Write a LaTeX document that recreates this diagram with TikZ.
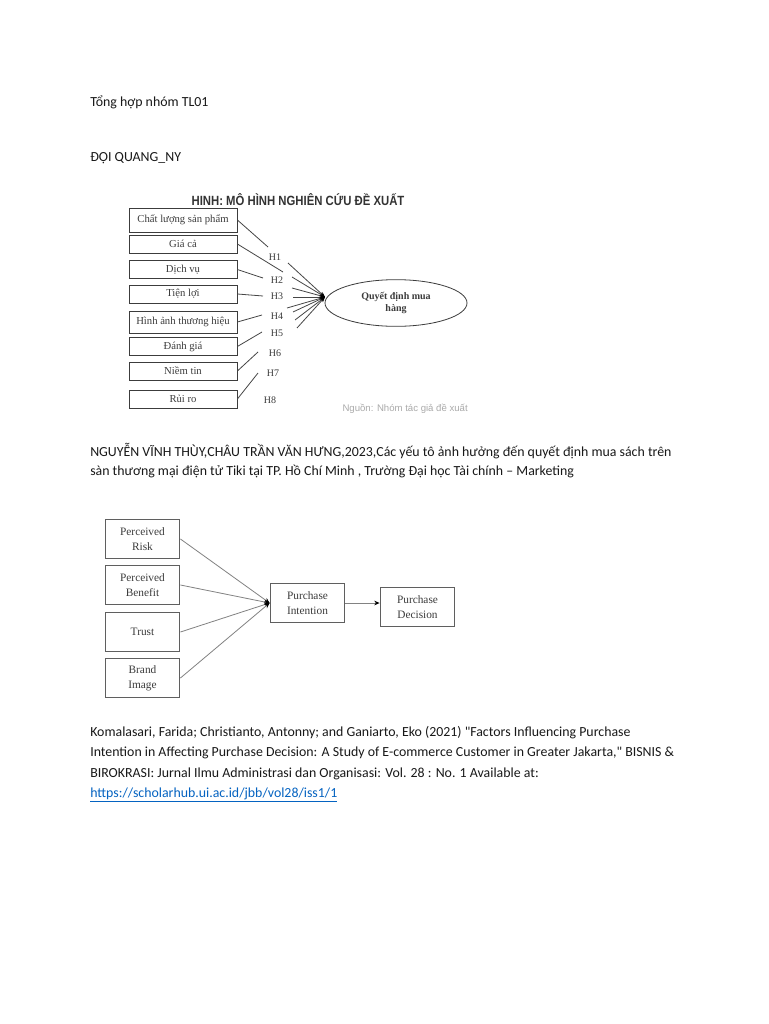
\documentclass[tikz,border=0pt]{standalone}
\usepackage{fontspec}
\setmainfont{Carlito}[Ligatures=TeXOff]
\newfontfamily\scanserif{Liberation Serif}
\newfontfamily\scantitle[FakeStretch=0.85]{Liberation Sans}
\newfontfamily\notesans{Liberation Sans}
\usepackage{xcolor}
\definecolor{txtblack}{RGB}{25,25,25}
\definecolor{scangray}{RGB}{60,60,60}
\definecolor{scanline}{RGB}{70,70,70}
\definecolor{boxgray}{RGB}{95,95,95}
\definecolor{modelline}{RGB}{130,130,130}
\definecolor{notegray}{RGB}{170,170,170}
\definecolor{linkblue}{RGB}{5,99,193}
\usetikzlibrary{arrows.meta, positioning, shapes.geometric}

\tikzset{
  bodytext/.style={anchor=base west, inner sep=0pt, text=txtblack,
                   font=\fontsize{10.4}{12.5}\selectfont},
  factorbox/.style={draw=scangray, line width=0.6pt, minimum width=81pt,
                    minimum height=13.5pt, inner sep=0pt, text=scangray,
                    font=\scanserif\fontsize{8}{9}\selectfont},
  hlabel/.style={inner sep=1pt, text=scangray,
                 font=\scanserif\fontsize{7.5}{9}\selectfont},
  scanlink/.style={draw=scanline, line width=0.6pt},
  scanarrow/.style={draw=scanline, line width=0.6pt,
                    -{Stealth[length=4pt, width=3pt, color=black]}},
  modelbox/.style={draw=boxgray, line width=0.9pt, minimum width=56pt,
                   minimum height=29pt, inner sep=1pt, align=center, text=scangray,
                   font=\scanserif\fontsize{8.5}{11}\selectfont},
  modelarrow/.style={draw=modelline, line width=0.6pt,
                     -{Stealth[length=4pt, width=3.5pt, color=black]}}
}

\begin{document}
\begin{tikzpicture}[x=0.75pt, y=-0.75pt]
\useasboundingbox[fill=white] (0,0) rectangle (768,1024);

% ===== Header =====
\node[bodytext] (group) at (90,107) {Tổng hợp nhóm TL01};
\node[bodytext] (member) at (90,161) {ĐỌI QUANG\_NY};

% ===== Research model (Vietnamese) =====
\node[inner sep=0pt, text=black!80, font=\scantitle\bfseries\fontsize{10}{11}\selectfont]
      (title) at (298,200) {HINH: MÔ HÌNH NGHIÊN CỨU ĐỀ XUẤT};

% Factor boxes
\node[factorbox, minimum height=18pt] (f1) at (183,220) {Chất lượng sản phẩm};
\node[factorbox] (f2) at (183,244) {Giá cả};
\node[factorbox] (f3) at (183,269.5) {Dịch vụ};
\node[factorbox] (f4) at (183,294) {Tiện lợi};
\node[factorbox, minimum height=16.5pt] (f5) at (183,322) {Hình ảnh thương hiệu};
\node[factorbox] (f6) at (183,346.5) {Đánh giá};
\node[factorbox] (f7) at (183,371) {Niềm tin};
\node[factorbox] (f8) at (183,399) {Rủi ro};

% Hypotheses
\node[hlabel] (h1) at (275,257) {H1};
\node[hlabel] (h2) at (277,280) {H2};
\node[hlabel] (h3) at (277,296) {H3};
\node[hlabel] (h4) at (277,316) {H4};
\node[hlabel] (h5) at (277,333) {H5};
\node[hlabel] (h6) at (275,353) {H6};
\node[hlabel] (h7) at (273,373) {H7};
\node[hlabel] (h8) at (270,400) {H8};

% Dependent variable
\node[draw=scangray, line width=0.6pt, ellipse, minimum width=106.5pt, minimum height=35pt,
      inner sep=0pt, align=center, text=scangray,
      font=\scanserif\bfseries\fontsize{7.5}{8.5}\selectfont]
      (decision) at (396,303) {Quyết định mua\\hàng};
\coordinate (tip) at (325,297);

% Broken connectors: box -> hypothesis, hypothesis -> decision
\foreach \i/\ax/\ay/\bx/\by in {1/268/247/288/263, 2/283/272/292/277,
    3/263/278/292/288, 4/263/296/293/297, 5/262/315/287/308,
    6/262/332/293/312, 7/258/352/295/320, 8/258/373/297/328}{
  \coordinate (a\i) at (\ax,\ay);
  \coordinate (b\i) at (\bx,\by);
  \draw[scanlink] (f\i.east) -- (a\i);
  \draw[scanarrow] (b\i) -- (tip);
}

% Source
\node[anchor=base east, inner sep=0pt, text=notegray,
      font=\notesans\fontsize{7.2}{8}\selectfont]
      (source) at (468,411) {Nguồn: Nhóm tác giả đề xuất};

% ===== Reference 1 =====
\node[bodytext] (ref1a) at (90,456) {NGUYỄN VĨNH THÙY,CHÂU TRẦN VĂN HƯNG,2023,Các yếu tô ảnh hưởng đến quyết định mua sách trên};
\node[bodytext] (ref1b) at (90,475) {sàn thương mại điện tử Tiki tại TP. Hồ Chí Minh , Trường Đại học Tài chính – Marketing};

% ===== Purchase model (English) =====
\node[modelbox] (risk) at (142.5,539) {Perceived\\Risk};
\node[modelbox] (benefit) at (142.5,585) {Perceived\\Benefit};
\node[modelbox] (trust) at (142.5,632) {Trust};
\node[modelbox] (brand) at (142.5,678) {Brand\\Image};
\node[modelbox] (intention) at (307.5,603) {Purchase\\Intention};
\node[modelbox] (purchase) at (417.5,607) {Purchase\\Decision};

\draw[modelarrow] (risk.east) -- (intention.west);
\draw[modelarrow] (benefit.east) -- (intention.west);
\draw[modelarrow] (trust.east) -- (intention.west);
\draw[modelarrow] (brand.east) -- (intention.west);
\draw[modelarrow] (intention.east) -- (intention.east -| purchase.west);

% ===== Reference 2 =====
\node[bodytext] (ref2a) at (90,736) {Komalasari, Farida; Christianto, Antonny; and Ganiarto, Eko (2021) "Factors Influencing Purchase};
\node[bodytext] (ref2b) at (90,756) {Intention in Affecting Purchase Decision: A Study of E-commerce Customer in Greater Jakarta," BISNIS \&};
\node[bodytext] (ref2c) at (90,777) {BIROKRASI: Jurnal Ilmu Administrasi dan Organisasi: Vol. 28 : No. 1 Available at:};
\node[bodytext, text=linkblue] (ref2d) at (90,797) {\underline{https://scholarhub.ui.ac.id/jbb/vol28/iss1/1}};

\end{tikzpicture}
\end{document}
